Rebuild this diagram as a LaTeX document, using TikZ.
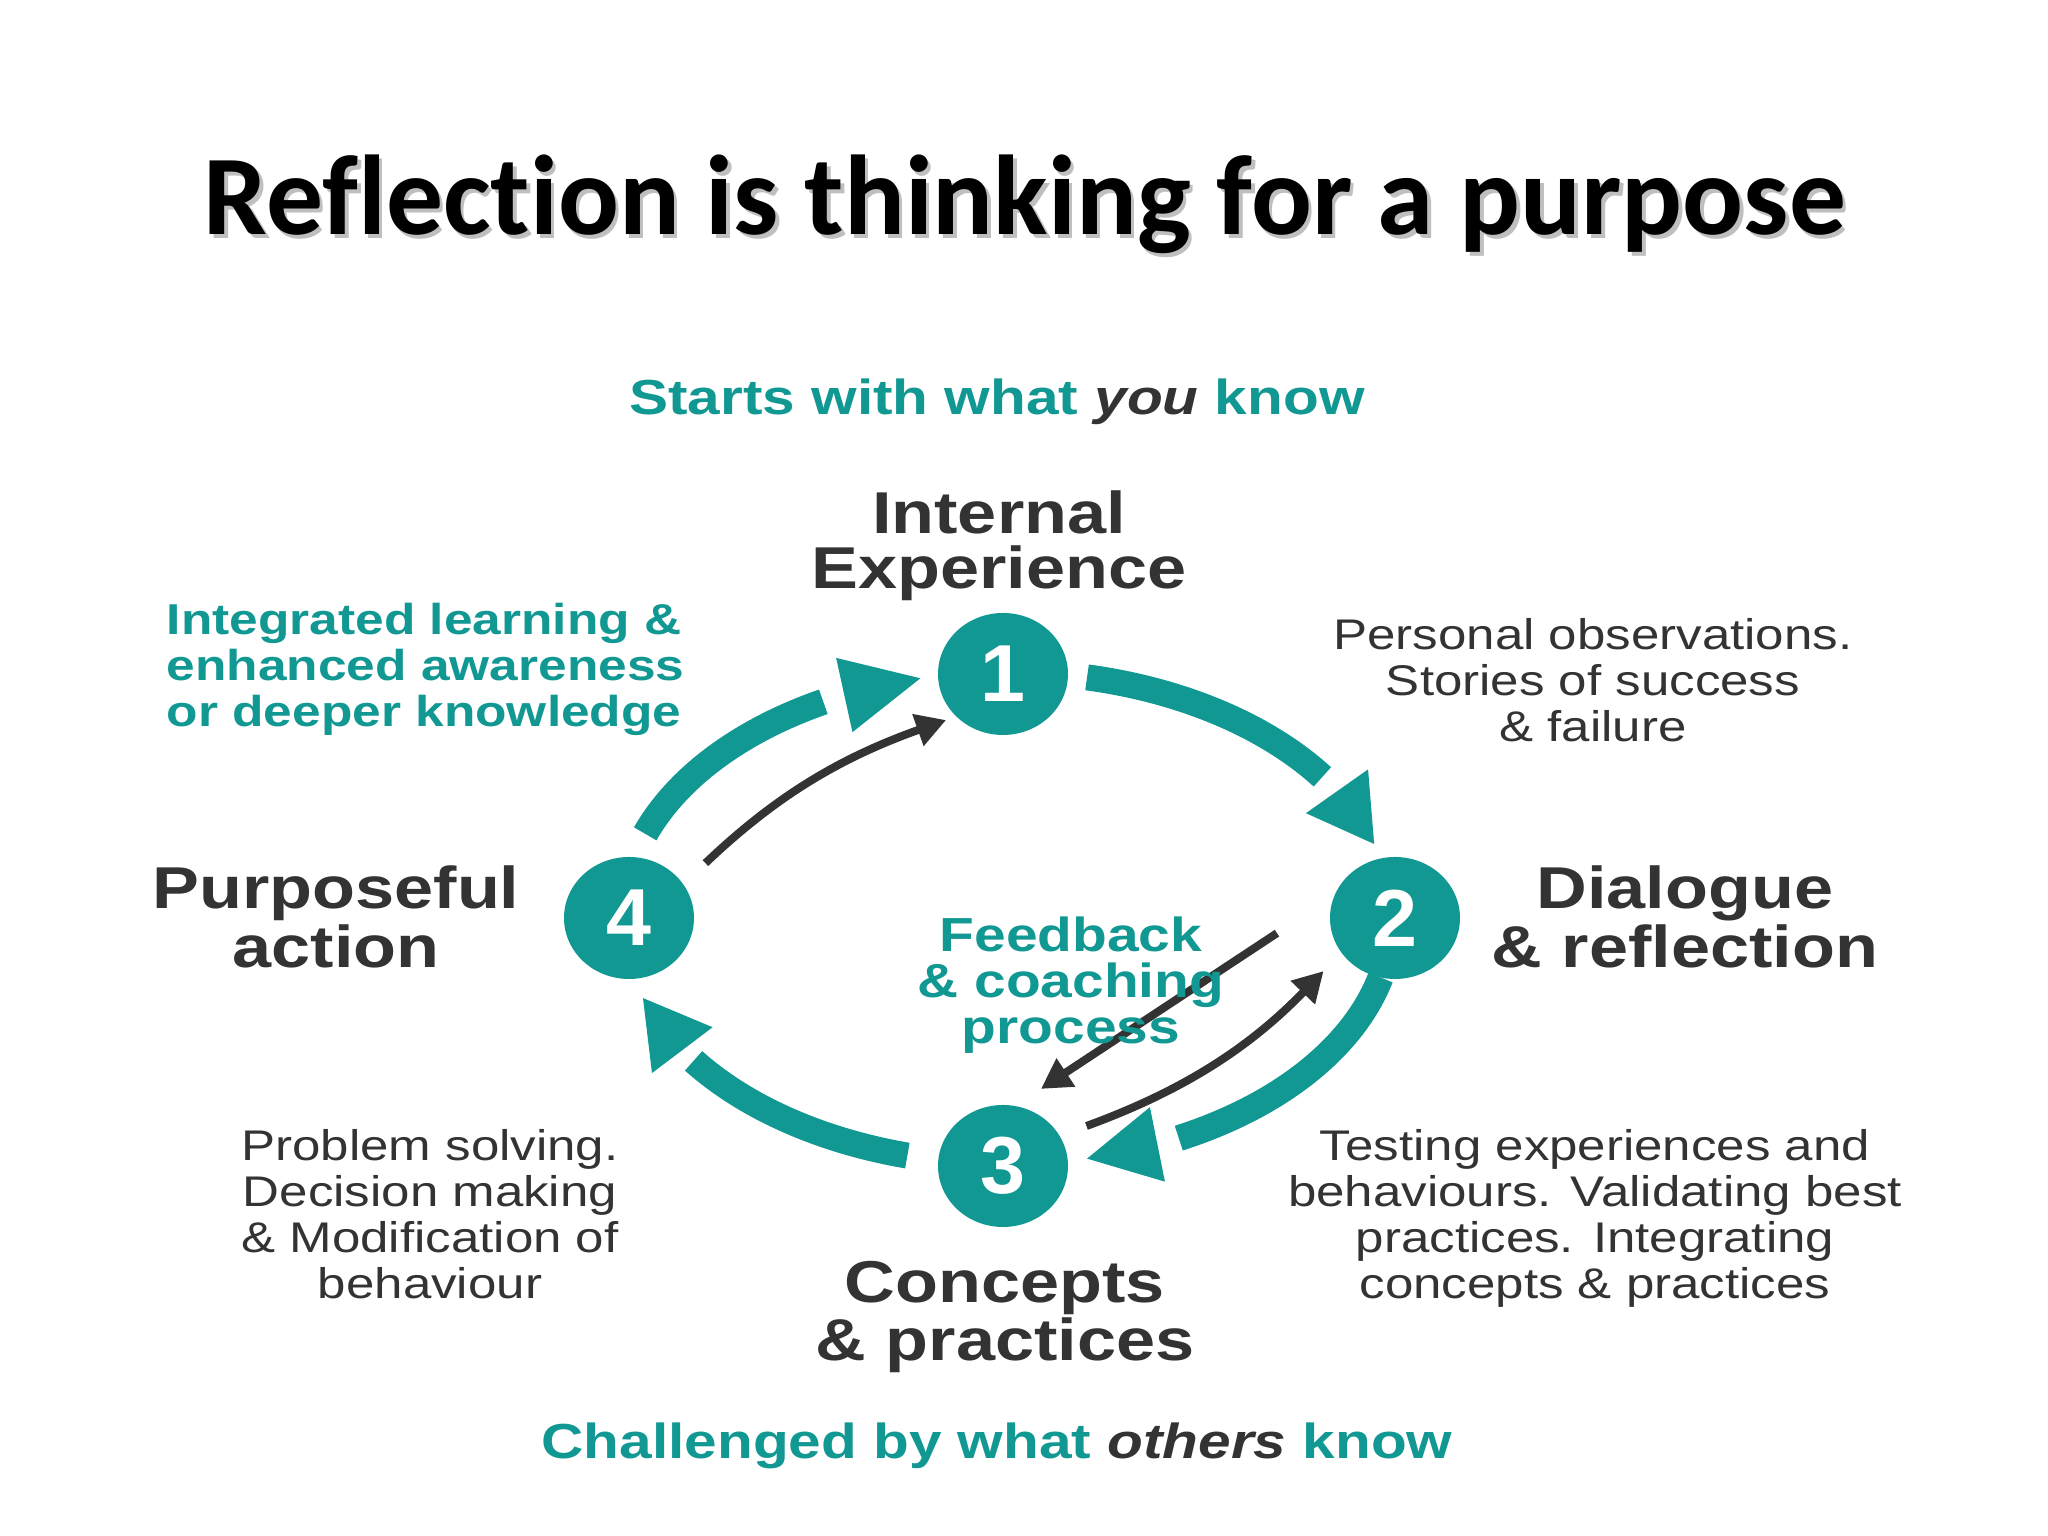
\documentclass[tikz,border=0pt]{standalone}
\usepackage{fontspec}
\setmainfont{Liberation Sans}
\newfontfamily\titlefont[Ligatures={NoCommon}]{Carlito}
\usetikzlibrary{arrows.meta,calc,shapes.geometric}
\definecolor{cteal}{RGB}{17,152,147}
\definecolor{cdark}{RGB}{51,51,51}

\begin{document}
\begin{tikzpicture}[>={Triangle[length=0.3cm,width=0.32cm]},
  num/.style={ellipse,fill=cteal,minimum width=1.3cm,minimum height=1.22cm,inner sep=0pt,
    text=white,font=\bfseries\fontsize{23}{23}\selectfont},
  cyc/.style={draw=cteal,line width=0.26cm},
  fb/.style={draw=cdark,line width=0.08cm,->},
  xstretch/.style={inner sep=0pt,xscale=1.19,transform shape},
  head/.style={xstretch,align=center,text=cdark,font=\bfseries\fontsize{16.8}{15.6}\selectfont},
  note/.style={xstretch,align=center,text=cdark,font=\fontsize{12.2}{13.1}\selectfont},
  tealnote/.style={xstretch,text=cteal,font=\bfseries\fontsize{12.3}{13.1}\selectfont},
  motto/.style={xstretch,anchor=base,text=cteal,font=\bfseries\fontsize{14}{14}\selectfont}]
  \useasboundingbox (0,0) rectangle (20.48,15.36);
  % title with shadow
  \node[anchor=base,text=black!25,font=\titlefont\bfseries\fontsize{32.3}{32}\selectfont] (titleshadow)
    at (10.285,12.975) {Reflection is thinking for a purpose};
  \node[anchor=base,text=black,font=\titlefont\bfseries\fontsize{32.3}{32}\selectfont] (title)
    at (10.25,13.01) {Reflection is thinking for a purpose};
  % numbered stages
  \node[num] (n1) at (10.03,8.62) {1};
  \node[num] (n2) at (13.95,6.18) {2};
  \node[num] (n3) at (10.03,3.70) {3};
  \node[num] (n4) at (6.29,6.18) {4};
  % cycle arcs with detached heads
  \coordinate (o) at (10.07,6.18);
  \foreach \s/\e/\b/\t in {78/35/31/17.5, -14/-63.5/-67/-78, 255/215.5/212.5/199, 160/118.5/115/103}{
    \draw[cyc] ($(o)+(\s:3.85 and 2.46)$) arc[start angle=\s,end angle=\e,x radius=3.85,y radius=2.46];
    \coordinate (hb) at ($(o)+(\b:3.85 and 2.46)$);
    \coordinate (ht) at ($(o)+(\t:3.85 and 2.46)$);
    \fill[cteal] (ht) -- ($(hb)!0.38cm!90:(ht)$) -- ($(hb)!0.38cm!-90:(ht)$) -- cycle;
  }
  % inner arrows
  \draw[fb,shorten <=0.3cm,shorten >=0.1cm] (n4.32) to[bend left=12] (n1.222);
  \draw[fb,shorten <=0.28cm,shorten >=0.25cm] (n3.28) to[bend right=13] (n2.213);
  \draw[fb,shorten <=0.68cm,shorten >=0.3cm] (n2.160) -- (n3.78);
  % labels
  \node[motto] (starts) at (9.97,11.21) {Starts with what \textcolor{cdark}{\itshape you} know};
  \node[head,anchor=north] (internal) at (9.99,10.455) {Internal\\Experience};
  \node[tealnote,anchor=north west,align=left] (integrated) at (1.66,9.34)
    {Integrated learning \&\\enhanced awareness\\or deeper knowledge};
  \node[note,anchor=north] (personal) at (15.93,9.18) {Personal observations.\\Stories of success\\\& failure};
  \node[head,anchor=north] (purposeful) at (3.36,6.705) {Purposeful\\action};
  \node[head,anchor=north] (dialogue) at (16.85,6.705) {Dialogue\\\& reflection};
  \node[tealnote,anchor=north,align=center,font=\bfseries\fontsize{13.6}{13.1}\selectfont] (feedback)
    at (10.71,6.195) {Feedback\\\& coaching\\process};
  \node[note,anchor=north] (problem) at (4.30,4.07)
    {Problem solving.\\Decision making\\\& Modification of\\behaviour};
  \node[note,anchor=north] (testing) at (15.95,4.07)
    {Testing experiences and\\behaviours. Validating best\\practices. Integrating\\concepts \& practices};
  \node[head,anchor=north] (concepts) at (10.05,2.755) {Concepts\\\& practices};
  \node[motto] (challenged) at (9.97,0.77) {Challenged by what \textcolor{cdark}{\itshape others} know};
\end{tikzpicture}
\end{document}
